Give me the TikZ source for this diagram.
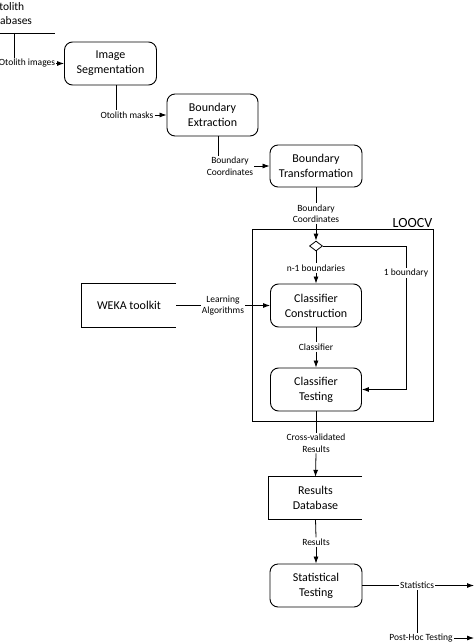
\documentclass[tikz,border=0pt]{standalone}
\usepackage{fontspec}
\setmainfont{Carlito}
\usetikzlibrary{arrows.meta,shapes.geometric}
\begin{document}
\begin{tikzpicture}[x=1pt,y=-1pt,
 proc/.style={draw, rounded corners=8pt, line width=0.9pt, minimum width=92pt, minimum height=43pt, align=center, font=\fontsize{12}{15}\selectfont, inner sep=0pt},
 store/.style={minimum width=94pt, minimum height=43pt, align=center, font=\fontsize{12}{15}\selectfont, inner sep=0pt},
 storeline/.style={line width=0.9pt},
 lbl/.style={fill=white, inner sep=1pt, align=center, font=\fontsize{9.5}{11.5}\selectfont},
 conn/.style={line width=0.8pt},
 arr/.style={conn, -{Latex[length=7pt,width=5pt]}},
 ]
\useasboundingbox (0,0) rectangle (474,644);
% LOOCV frame
\node[draw, line width=0.9pt, minimum width=181pt, minimum height=192pt, inner sep=0pt] (loocv) at (342.5,325) {};
\node[anchor=south east, font=\fontsize{14}{16}\selectfont, inner sep=1pt] (lloocv) at (loocv.north east) {LOOCV};
% data store top
\node[align=center, font=\fontsize{11.5}{14}\selectfont, inner sep=0pt] (db) at (8,14) {Otolith\\Databases};
\coordinate (dbl) at (14,33);
\draw[storeline] (-20,33) -- (55,33);
% process boxes
\node[proc] (seg) at (110.5,63.5) {Image\\Segmentation};
\node[proc, minimum width=91pt, minimum height=42pt] (ext) at (212.5,115) {Boundary\\Extraction};
\node[proc, minimum height=42pt] (trans) at (316,166) {Boundary\\Transformation};
\node[diamond, draw, line width=0.8pt, minimum width=13pt, minimum height=10pt, inner sep=0pt, aspect=1.3] (dia) at (316,246) {};
\node[proc, minimum width=91pt] (cc) at (316,305.5) {Classifier\\Construction};
\node[proc, minimum width=91pt] (ct) at (316,389.5) {Classifier\\Testing};
\node[store, minimum width=93pt, minimum height=42pt] (rdb) at (315.5,498) {Results\\Database};
\draw[storeline] (rdb.north east) -- (rdb.north west) -- (rdb.south west) -- (rdb.south east);
\node[proc] (st) at (316,585.5) {Statistical\\Testing};
\node[store] (weka) at (129,305.5) {WEKA toolkit};
\draw[storeline] (weka.north east) -- (weka.north west) -- (weka.south west) -- (weka.south east);
% labels
\node[lbl] (limg) at (27,63.5) {Otolith images};
\node[lbl] (lmask) at (127,115) {Otolith masks};
\node[lbl] (lbc1) at (230,166) {Boundary\\Coordinates};
\node[lbl] (lbc2) at (316,213.5) {Boundary\\Coordinates};
\node[lbl] (lnb) at (316,268) {n-1 boundaries};
\node[lbl] (lla) at (223,305.5) {Learning\\Algorithms};
\node[lbl] (lcl) at (316,347) {Classifier};
\node[lbl] (lcv) at (316,443) {Cross-validated\\Results};
\node[lbl] (lres) at (316,542) {Results};
\node[lbl] (lph) at (421,638) {Post-Hoc Testing};
\coordinate (c2) at (406,389.5);
\coordinate (outx) at (474,0);
% connectors
\draw[conn] (dbl) -- (dbl |- limg.north);
\draw[arr] (limg.east) -- (seg.west);
\draw[conn] ([xshift=5.5pt]seg.south) -- ([xshift=5.5pt]seg.south |- lmask.north);
\draw[arr] (lmask.east) -- (ext.west);
\draw[conn] ([xshift=5.5pt]ext.south) -- ([xshift=5.5pt]ext.south |- lbc1.north);
\draw[arr] (lbc1.east) -- (trans.west);
\draw[conn] (trans.south) -- (lbc2.north);
\draw[arr] (lbc2.south) -- (dia.north);
\draw[conn] (dia.south) -- (lnb.north);
\draw[arr] (lnb.south) -- (cc.north);
\draw[arr] (dia.east) -| node[lbl, pos=0.595] (l1b) {1 boundary} (c2) -- (ct.east);
\draw[conn] (weka.east) -- (lla.west);
\draw[arr] (lla.east) -- (cc.west);
\draw[conn] (cc.south) -- (lcl.north);
\draw[arr] (lcl.south) -- (ct.north);
\draw[conn] (ct.south) -- (lcv.north);
\draw[arr] (lcv.south) -- (rdb.north);
\draw[conn] (rdb.south) -- (lres.north);
\draw[arr] (lres.south) -- (st.north);
\draw[arr] (st.east) -- node[lbl, pos=0.49] (lstat) {Statistics} (st.east -| outx);
\draw[conn] (lstat.south) -- (lstat.south |- lph.north);
\draw[arr] (lph.east) -- (lph.east -| outx);
\end{tikzpicture}
\end{document}
